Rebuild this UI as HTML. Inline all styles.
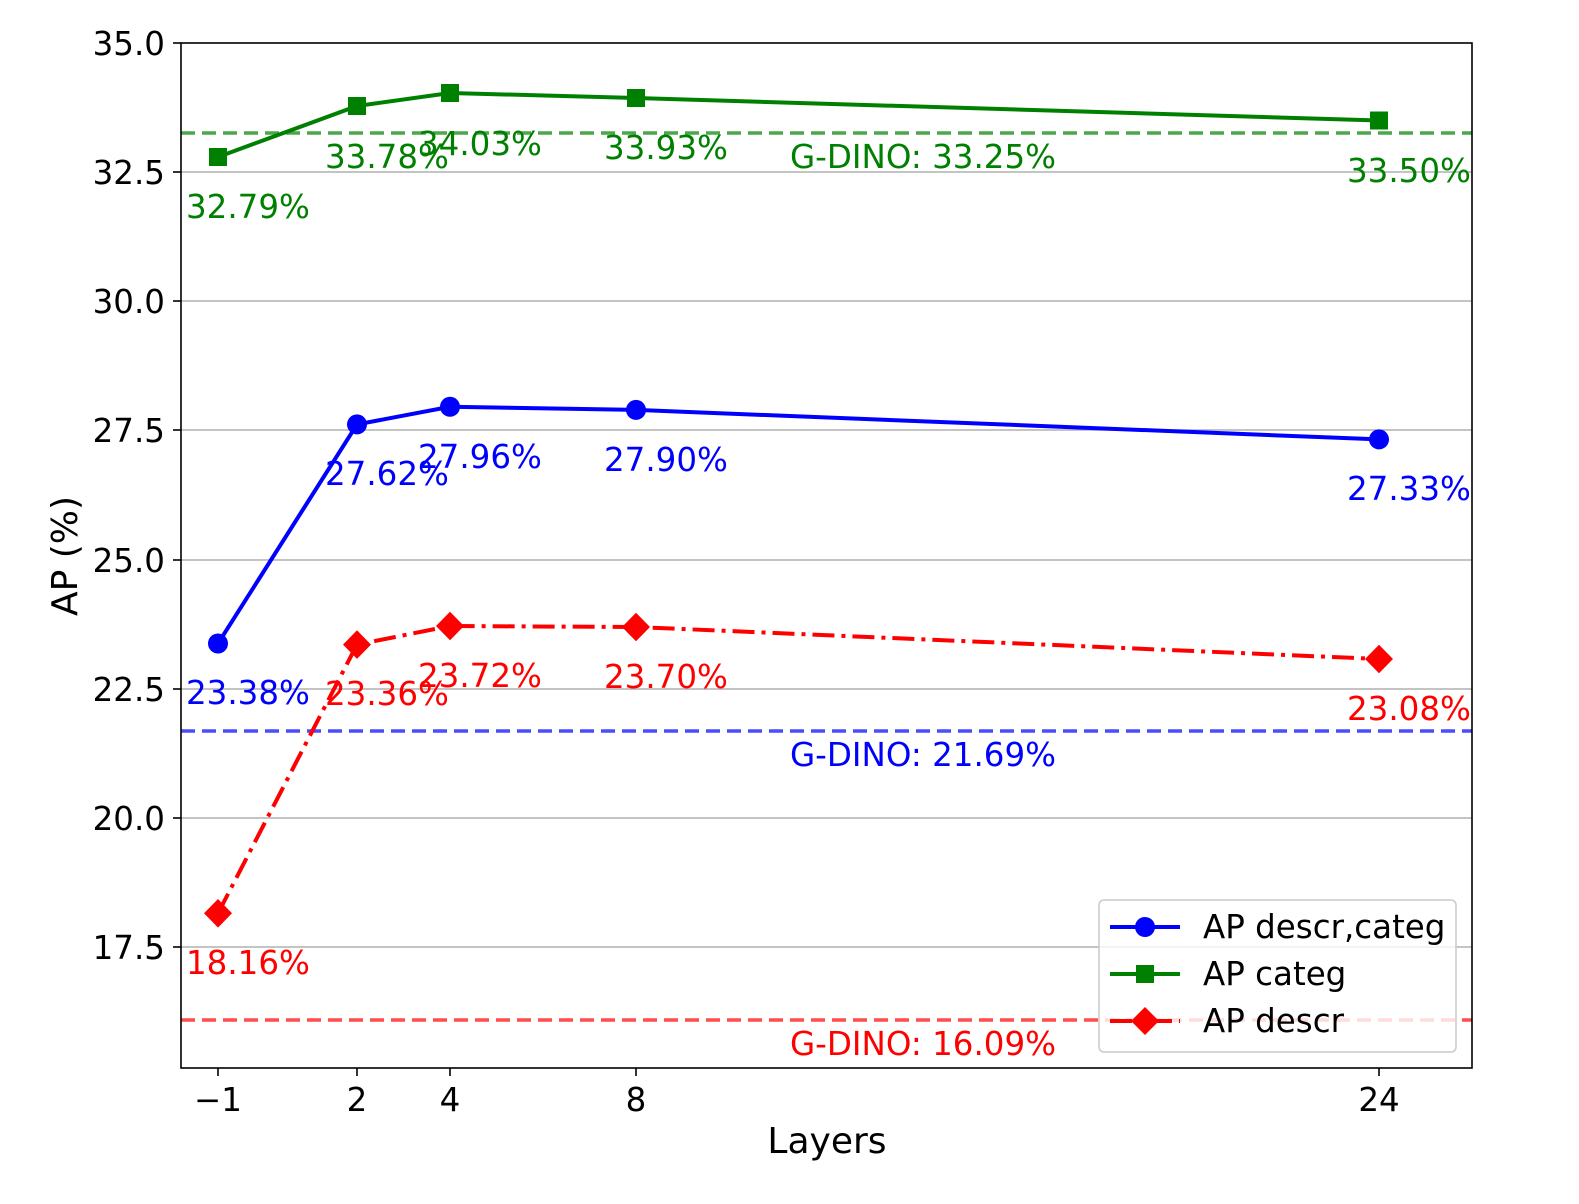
<!DOCTYPE html>
<html><head><meta charset="utf-8"><style>body{margin:0;background:#fff}svg{display:block}</style></head><body>
<svg width="1579" height="1204" xmlns="http://www.w3.org/2000/svg" font-family="DejaVu Sans, Liberation Sans, sans-serif">
<rect width="1579" height="1204" fill="#fff"/>
<g stroke="#b0b0b0" stroke-width="1.6">
<line x1="181" x2="1472" y1="172" y2="172"/><line x1="181" x2="1472" y1="301" y2="301"/>
<line x1="181" x2="1472" y1="430" y2="430"/><line x1="181" x2="1472" y1="560" y2="560"/>
<line x1="181" x2="1472" y1="689" y2="689"/><line x1="181" x2="1472" y1="818" y2="818"/>
<line x1="181" x2="1472" y1="947" y2="947"/>
</g>
<g stroke-width="3.5" stroke-dasharray="14,7" fill="none">
<line x1="181" x2="1472" y1="133" y2="133" stroke="#008000" stroke-opacity="0.7"/>
<line x1="181" x2="1472" y1="731" y2="731" stroke="#0000ff" stroke-opacity="0.7"/>
<line x1="181" x2="1472" y1="1020" y2="1020" stroke="#ff0000" stroke-opacity="0.7"/>
</g>
<polyline points="218,157 357,106 450,93 636,98 1379,120.5" fill="none" stroke="#008000" stroke-width="4"/>
<g fill="#008000"><rect x="209" y="148" width="18" height="18"/><rect x="348" y="97" width="18" height="18"/><rect x="441" y="84" width="18" height="18"/><rect x="627" y="89" width="18" height="18"/><rect x="1370" y="111.5" width="18" height="18"/></g>
<polyline points="218,643.5 357,424.4 450,406.8 636,409.9 1379,439.4" fill="none" stroke="#0000ff" stroke-width="4"/>
<g fill="#0000ff"><circle cx="218" cy="643.5" r="10"/><circle cx="357" cy="424.4" r="10"/><circle cx="450" cy="406.8" r="10"/><circle cx="636" cy="409.9" r="10"/><circle cx="1379" cy="439.4" r="10"/></g>
<polyline points="218,913.3 357,644.6 450,626 636,627 1379,659" fill="none" stroke="#ff0000" stroke-width="4" stroke-dasharray="22,7,4,7"/>
<g fill="#ff0000">
<polygon points="218,899 232,913.3 218,927.6 204,913.3"/><polygon points="357,630.3 371,644.6 357,658.9 343,644.6"/>
<polygon points="450,611.7 464,626 450,640.3 436,626"/><polygon points="636,612.7 650,627 636,641.3 622,627"/>
<polygon points="1379,644.7 1393,659 1379,673.3 1365,659"/></g>
<g font-size="32.5">
<g fill="#008000"><text x="186" y="218">32.79%</text><text x="325" y="168">33.78%</text><text x="418" y="155">34.03%</text><text x="604" y="159">33.93%</text><text x="1347" y="182">33.50%</text><text x="790" y="168">G-DINO: 33.25%</text></g>
<g fill="#0000ff"><text x="186" y="704">23.38%</text><text x="325" y="485">27.62%</text><text x="418" y="468">27.96%</text><text x="604" y="471">27.90%</text><text x="1347" y="500">27.33%</text><text x="790" y="766">G-DINO: 21.69%</text></g>
<g fill="#ff0000"><text x="186" y="974">18.16%</text><text x="325" y="705">23.36%</text><text x="418" y="687">23.72%</text><text x="604" y="688">23.70%</text><text x="1347" y="720">23.08%</text><text x="790" y="1055">G-DINO: 16.09%</text></g>
</g>
<rect x="1099" y="900" width="357" height="152" rx="5" fill="#fff" fill-opacity="0.8" stroke="#cccccc" stroke-width="1.6"/>
<line x1="1110" x2="1180" y1="927" y2="927" stroke="#0000ff" stroke-width="4"/><circle cx="1145" cy="927" r="10" fill="#0000ff"/>
<line x1="1110" x2="1180" y1="974" y2="974" stroke="#008000" stroke-width="4"/><rect x="1136" y="965" width="18" height="18" fill="#008000"/>
<line x1="1110" x2="1180" y1="1021" y2="1021" stroke="#ff0000" stroke-width="4" stroke-dasharray="22,7,4,7"/><polygon points="1145,1007 1159,1021 1145,1035 1131,1021" fill="#ff0000"/>
<g font-size="32.5" fill="#000"><text x="1203" y="938">AP descr,categ</text><text x="1203" y="985">AP categ</text><text x="1203" y="1032">AP descr</text></g>
<rect x="181" y="43" width="1291" height="1025" fill="none" stroke="#000" stroke-width="1.6"/>
<g stroke="#000" stroke-width="1.6">
<line x1="173" x2="181" y1="43" y2="43"/><line x1="173" x2="181" y1="172" y2="172"/><line x1="173" x2="181" y1="301" y2="301"/><line x1="173" x2="181" y1="430" y2="430"/><line x1="173" x2="181" y1="560" y2="560"/><line x1="173" x2="181" y1="689" y2="689"/><line x1="173" x2="181" y1="818" y2="818"/><line x1="173" x2="181" y1="947" y2="947"/>
<line x1="218" x2="218" y1="1068" y2="1076"/><line x1="357" x2="357" y1="1068" y2="1076"/><line x1="450" x2="450" y1="1068" y2="1076"/><line x1="636" x2="636" y1="1068" y2="1076"/><line x1="1379" x2="1379" y1="1068" y2="1076"/>
</g>
<g font-size="32.5" fill="#000" text-anchor="end">
<text x="165" y="55">35.0</text><text x="165" y="184">32.5</text><text x="165" y="313">30.0</text><text x="165" y="442">27.5</text><text x="165" y="572">25.0</text><text x="165" y="701">22.5</text><text x="165" y="830">20.0</text><text x="165" y="959">17.5</text>
</g>
<g font-size="32.5" fill="#000" text-anchor="middle">
<text x="218" y="1111">−1</text><text x="357" y="1111">2</text><text x="450" y="1111">4</text><text x="636" y="1111">8</text><text x="1379" y="1111">24</text>
<text x="827" y="1153" font-size="36">Layers</text>
<text transform="translate(77,556) rotate(-90)" font-size="36">AP (%)</text>
</g>
</svg>
</body></html>
